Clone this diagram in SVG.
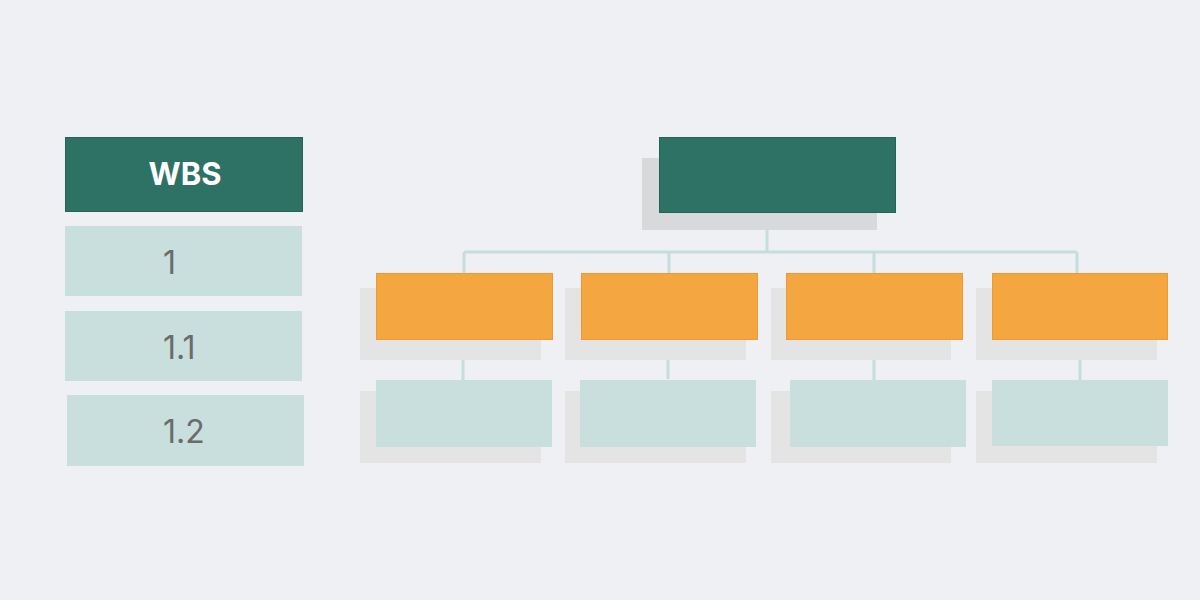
<svg xmlns="http://www.w3.org/2000/svg" width="1200" height="600" viewBox="0 0 1200 600">
<style>
.bg{fill:#eff0f4}
.hdr{fill:#2d7265;stroke:#1f6656;stroke-width:1}
.cell{fill:#c8dfdd}
.org{fill:#f4a641;stroke:#f1992a;stroke-width:1}
.leaf{fill:#c8dfdd}
.sh{fill:#e4e4e4}
.sh2{fill:#d8d9db}
.con{stroke:#c5dedb;stroke-width:3;fill:none}
.t1{font-family:Inter,"Liberation Sans",sans-serif;font-size:32px;fill:#6b6b6b}
.tw{font-family:Inter,"Liberation Sans",sans-serif;font-size:31px;font-weight:700;fill:#ffffff}
</style>
<rect class="bg" x="0" y="0" width="1200" height="600"/>
<g id="wbs-table">
<g id="wbs-header"><rect class="hdr" x="65.5" y="137.5" width="237" height="74"/><text class="tw" x="185" y="185" text-anchor="middle">WBS</text></g>
<g id="wbs-1"><rect class="cell" x="65" y="226" width="237" height="70"/><text class="t1" x="163" y="274">1</text></g>
<g id="wbs-1-1"><rect class="cell" x="65" y="311" width="237" height="70"/><text class="t1" x="163" y="359">1.1</text></g>
<g id="wbs-1-2"><rect class="cell" x="67" y="395" width="237" height="71"/><text class="t1" x="163" y="443">1.2</text></g>
</g>
<g id="connectors">
<path class="con" d="M767 230V252M464 252H1077M464 252V273M669 252V273M874 252V273M1077 252V273"/>
<path class="con" d="M463 360V380M668 360V379M874 360V380M1080 360V380"/>
</g>
<g id="root"><rect class="sh2" x="642" y="158" width="235" height="72"/><rect class="hdr" x="659.5" y="137.5" width="236" height="75"/></g>
<g id="n1"><rect class="sh" x="360" y="288" width="181" height="72"/><rect class="org" x="376.5" y="273.5" width="176" height="66"/></g>
<g id="n2"><rect class="sh" x="565" y="288" width="181" height="72"/><rect class="org" x="581.5" y="273.5" width="176" height="66"/></g>
<g id="n3"><rect class="sh" x="771" y="288" width="180" height="72"/><rect class="org" x="786.5" y="273.5" width="176" height="66"/></g>
<g id="n4"><rect class="sh" x="976" y="288" width="181" height="72"/><rect class="org" x="992.5" y="273.5" width="175" height="66"/></g>
<g id="l1"><rect class="sh" x="360" y="391" width="181" height="72"/><rect class="leaf" x="376" y="380" width="176" height="67"/></g>
<g id="l2"><rect class="sh" x="565" y="391" width="181" height="72"/><rect class="leaf" x="580" y="380" width="176" height="67"/></g>
<g id="l3"><rect class="sh" x="771" y="391" width="180" height="72"/><rect class="leaf" x="790" y="380" width="176" height="67"/></g>
<g id="l4"><rect class="sh" x="976" y="391" width="181" height="72"/><rect class="leaf" x="992" y="380" width="176" height="66"/></g>
</svg>
